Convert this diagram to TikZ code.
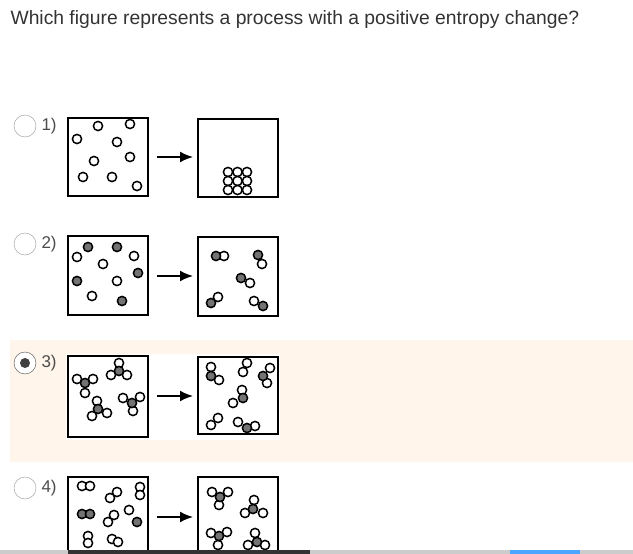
\documentclass[tikz,border=0pt]{standalone}
\usepackage{fontspec}
\setmainfont{Liberation Sans}
\usetikzlibrary{arrows.meta}
\begin{document}
\begin{tikzpicture}[x=1pt,y=-1pt,
  bx/.style={draw=black,line width=1.8pt,fill=white},
  wa/.style={draw=black,line width=1.5pt,fill=white},
  ga/.style={draw=black,line width=1.5pt,fill=black!55},
  arr/.style={-{Latex[length=13pt,width=11pt]},line width=1.8pt},
  radio/.style={circle,draw=black!40,fill=white,minimum size=22pt,inner sep=0pt},
  lab/.style={font=\fontsize{17}{19}\selectfont,text=black!70,anchor=west}]
\useasboundingbox (0,0) rectangle (633,554);
\fill[white] (0,0) rectangle (633,554);
\node[anchor=west,font=\fontsize{19.3}{22}\selectfont,text=black!80] (q) at (7,20) {Which figure represents a process with a positive entropy change?};
\fill[orange!8] (10,340) rectangle (633,462);
\fill[white] (66,354) rectangle (280,440);
\def\r{4.6}
% row 1
\node[radio] (r1) at (25,126) {}; \node[lab] (l1) at (38,126) {1)};
\draw[bx] (68,118) rectangle (148,196); \draw[bx] (198,119) rectangle (278,197);
\coordinate (a1) at (157,157); \coordinate (b1) at (193,157); \draw[arr] (a1)--(b1);
\foreach \x/\y in {98/126,130/124,77/139,117/142,130/157,94/161,83/177,112/177,137/186}
  \draw[wa] (\x,\y) circle (\r);
\foreach \x in {228,237.5,247} \foreach \y in {172,181,190} \draw[wa] (\x,\y) circle (\r);
% row 2
\node[radio] (r2) at (25,244) {}; \node[lab] (l2) at (38,244) {2)};
\draw[bx] (68,236) rectangle (148,315); \draw[bx] (198,237) rectangle (278,316);
\coordinate (a2) at (157,276); \coordinate (b2) at (193,276); \draw[arr] (a2)--(b2);
\foreach \x/\y in {88/247,117/247,138/273,77/281,122/301} \draw[ga] (\x,\y) circle (\r);
\foreach \x/\y in {77/257,134/256,103/264,117/281,92/296} \draw[wa] (\x,\y) circle (\r);
\foreach \x/\y in {224/256,262/264,250/283,218/297,254/301} \draw[wa] (\x,\y) circle (\r);
\foreach \x/\y in {216/256,258/255,241/278,211/303,263/306} \draw[ga] (\x,\y) circle (\r);
% row 3
\node[radio,draw=black!70] (r3) at (25,363) {}; \fill[black!75] (r3) circle (5);
\node[lab] (l3) at (38,363) {3)};
\draw[bx] (68,356) rectangle (148,437); \draw[bx] (198,357) rectangle (278,434);
\coordinate (a3) at (157,396); \coordinate (b3) at (193,396); \draw[arr] (a3)--(b3);
\foreach \x/\y in {77/379,93/379,85/393,119/363,111/375,127/375,97/401,92/416,107/413,123/398,140/397,133/411}
  \draw[wa] (\x,\y) circle (\r);
\foreach \x/\y in {85/383,119/371,98/409,132/403} \draw[ga] (\x,\y) circle (\r);
\foreach \x/\y in {211/367,219/380,247/363,243/372,270/368,267/383,242/390,233/403,218/418,211/425,238/422,255/426}
  \draw[wa] (\x,\y) circle (\r);
\foreach \x/\y in {211/376,263/376,243/398,247/428} \draw[ga] (\x,\y) circle (\r);
% row 4
\node[radio] (r4) at (25,488) {}; \node[lab] (l4) at (38,488) {4)};
\draw[bx] (68,477) rectangle (148,560); \draw[bx] (198,477) rectangle (278,560);
\coordinate (a4) at (157,517); \coordinate (b4) at (193,517); \draw[arr] (a4)--(b4);
\foreach \x/\y in {82/486,90/486,117/492,110/498,140/487,140/495,114/515,108/522,129/510,88/536,88/543,112/539,118/542}
  \draw[wa] (\x,\y) circle (\r);
\foreach \x/\y in {82/514,90/514,137/522} \draw[ga] (\x,\y) circle (\r);
\foreach \x/\y in {212/492,228/492,219/505,254/500,245/513,263/513,211/533,227/532,218/545,255/533,248/545,265/545}
  \draw[wa] (\x,\y) circle (\r);
\foreach \x/\y in {220/497,253/509,219/536,257/542} \draw[ga] (\x,\y) circle (\r);
% bottom bar
\fill[black!20] (0,550) rectangle (633,554);
\fill[black!80] (68,550) rectangle (310,554);
\fill[blue!50!cyan!70] (510,550) rectangle (580,554);
\end{tikzpicture}
\end{document}
